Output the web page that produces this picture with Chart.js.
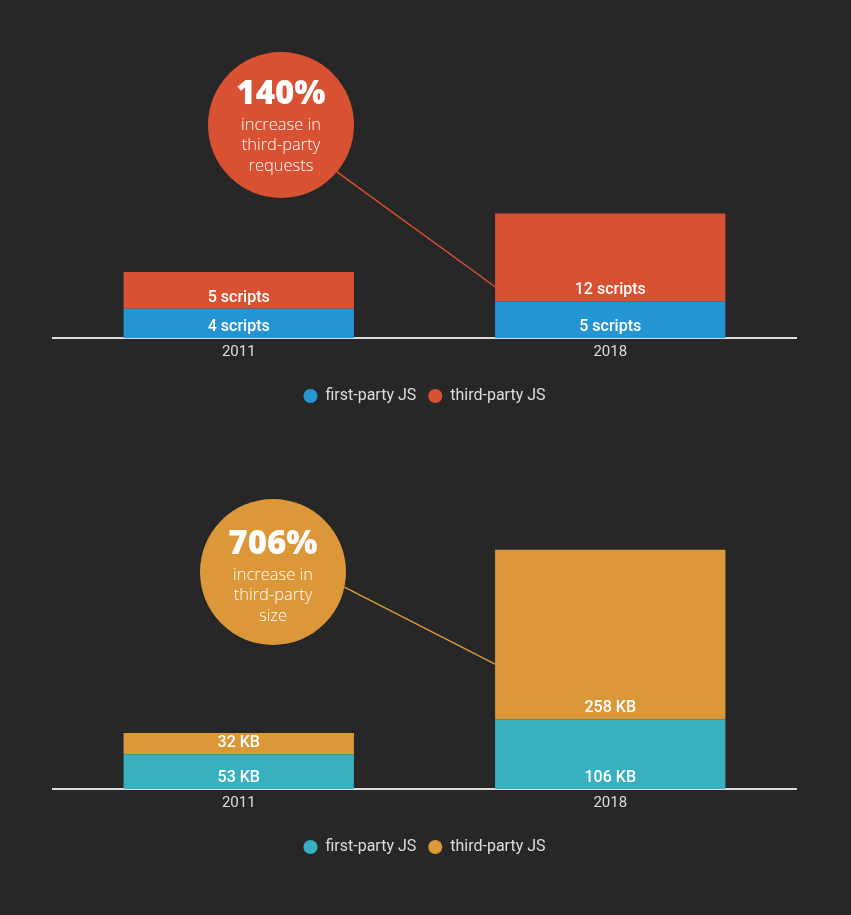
<!DOCTYPE html>
<html>
<head>
<meta charset="utf-8">
<script src="https://cdn.jsdelivr.net/npm/chart.js@4"></script>
<style>
  html, body { margin: 0; padding: 0; background: #272727; }
  body { width: 851px; height: 915px; position: relative; overflow: hidden; }
  .wrap { position: absolute; left: 0; width: 851px; height: 420px; }
</style>
</head>
<body>
<div class="wrap" style="top:0"><canvas id="countChart"></canvas></div>
<div class="wrap" style="top:451px"><canvas id="sizeChart"></canvas></div>
<script>
const years = ["2011", "2018"];
const seriesNames = ["first-party JS", "third-party JS"];

// number of scripts
const firstPartyScripts = [4, 5];
const thirdPartyScripts = [5, 12];

// size in KB
const firstPartyKB = [53, 106];
const thirdPartyKB = [32, 258];

const TEXT = "#dddddd";

// labels sit near the base of each stacked segment
const segmentLabels = {
  id: "segmentLabels",
  afterDatasetsDraw(chart, args, opts) {
    const ctx = chart.ctx;
    ctx.save();
    ctx.font = "500 16px Roboto";
    ctx.fillStyle = "#ffffff";
    ctx.textAlign = "center";
    ctx.textBaseline = "middle";
    chart.data.datasets.forEach((ds, i) => {
      chart.getDatasetMeta(i).data.forEach((bar, j) => {
        ctx.fillText(ds.data[j] + opts.unit, bar.x, bar.base - 11);
      });
    });
    ctx.restore();
  }
};

// the round callout with its pointer line
const callout = {
  id: "callout",
  afterDraw(chart, args, o) {
    const ctx = chart.ctx;
    const bar = chart.getDatasetMeta(1).data[1];
    const endX = bar.x - bar.width / 2;
    const endY = chart.scales.y.getPixelForValue(o.pointAt);
    const a = o.angle * Math.PI / 180;
    ctx.save();
    ctx.strokeStyle = o.color;
    ctx.lineWidth = 1.5;
    ctx.beginPath();
    ctx.moveTo(o.cx + Math.cos(a) * o.r, o.cy + Math.sin(a) * o.r);
    ctx.lineTo(endX, endY);
    ctx.stroke();

    ctx.fillStyle = o.color;
    ctx.beginPath();
    ctx.arc(o.cx, o.cy, o.r, 0, Math.PI * 2);
    ctx.fill();

    ctx.fillStyle = "#ffffff";
    ctx.textAlign = "center";
    ctx.textBaseline = "middle";
    ctx.font = "800 33px 'Open Sans'";
    ctx.fillText(o.big, o.cx, o.cy - 30 + o.dy);
    ctx.font = "300 16.5px 'Open Sans'";
    o.lines.forEach((t, i) => ctx.fillText(t, o.cx, o.cy + o.dy + i * 20.5));
    ctx.restore();
  }
};

function makeChart(id, first, third, colors, unit, yMax, padTop, bubble) {
  return new Chart(document.getElementById(id), {
    type: "bar",
    data: {
      labels: years,
      datasets: [
        { label: seriesNames[0], data: first, backgroundColor: colors[0] },
        { label: seriesNames[1], data: third, backgroundColor: colors[1] }
      ]
    },
    options: {
      responsive: true,
      maintainAspectRatio: false,
      animation: false,
      layout: { padding: { left: 53, right: 55, top: padTop, bottom: 6 } },
      datasets: { bar: { categoryPercentage: 1, barPercentage: 0.62 } },
      scales: {
        x: {
          stacked: true,
          grid: { display: false, drawTicks: false },
          border: { color: TEXT, width: 2 },
          ticks: { color: TEXT, font: { family: "Roboto", size: 15 }, padding: 5 },
          afterFit(scale) { scale.height = 38; }
        },
        y: { stacked: true, display: false, min: 0, max: yMax }
      },
      plugins: {
        legend: {
          position: "bottom",
          labels: {
            color: TEXT,
            font: { family: "Roboto", size: 16 },
            usePointStyle: true,
            pointStyle: "circle",
            boxWidth: 14,
            boxHeight: 10,
            padding: 12
          }
        },
        tooltip: { enabled: false },
        segmentLabels: { unit: unit },
        callout: bubble
      }
    },
    plugins: [segmentLabels, callout]
  });
}

makeChart("countChart", firstPartyScripts, thirdPartyScripts, ["#2594d3", "#d95133"], " scripts", 25, 155, {
  cx: 281, cy: 125, r: 73, dy: 0, angle: 40, pointAt: 7, color: "#d95133",
  big: "140%", lines: ["increase in", "third-party", "requests"]
});

makeChart("sizeChart", firstPartyKB, thirdPartyKB, ["#38b0bf", "#dc9838"], " KB", 400, 75, {
  cx: 273, cy: 121, r: 73, dy: 3, angle: 12, pointAt: 190, color: "#dc9838",
  big: "706%", lines: ["increase in", "third-party", "size"]
});
</script>
</body>
</html>
